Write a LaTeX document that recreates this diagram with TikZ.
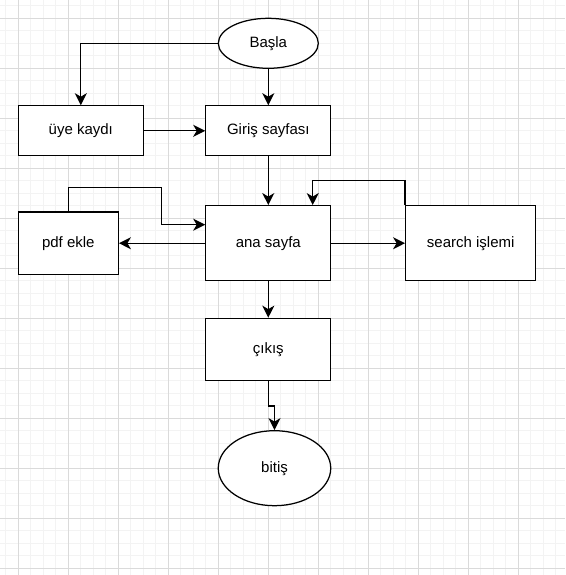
\documentclass[tikz,border=0pt]{standalone}
\usepackage{fontspec}
\setmainfont{Liberation Sans}
\usepackage{tikz}
\usetikzlibrary{arrows.meta, shapes.geometric}
\definecolor{gridminor}{HTML}{F3F3F3}
\definecolor{gridmajor}{HTML}{DADADA}

\begin{document}
\begin{tikzpicture}[x=1pt, y=-1pt, line width=1.25pt,
        every node/.append style={font=\fontsize{15}{18}\selectfont, inner sep=0pt}]
      \tikzstyle{box} = [rectangle, draw, fill=white]
      \tikzstyle{terminal} = [ellipse, draw, fill=white]
      \tikzstyle{arr} = [-{Stealth[length=12pt, width=12pt, inset=3.5pt]}]
      \useasboundingbox (0,0) rectangle (565,575);
      \foreach \i in {0,...,45}
        \draw[gridminor, line width=1pt] (5.8+12.5*\i,0) -- ++(0,575);
      \foreach \j in {0,...,45}
        \draw[gridminor, line width=1pt] (0,5.8+12.5*\j) -- ++(565,0);
      \foreach \i in {0,...,11}
        \draw[gridmajor, line width=1pt] (18.3+50*\i,0) -- ++(0,575);
      \foreach \j in {0,...,11}
        \draw[gridmajor, line width=1pt] (0,18.3+50*\j) -- ++(565,0);
      \node (basla) [terminal, minimum width=100pt, minimum height=50pt] at (268.3,43.3) {Başla};
      \node (uye) [box, minimum width=125pt, minimum height=50pt] at (80.8,130.8) {üye kaydı};
      \node (giris) [box, minimum width=125pt, minimum height=50pt] at (268.3,130.8) {Giriş sayfası};
      \node (ana) [box, minimum width=125pt, minimum height=75pt] at (268.3,243.2) {ana sayfa};
      \node (pdf) [box, minimum width=100pt, minimum height=62.5pt] at (68.3,243.2) {pdf ekle};
      \node (search) [box, minimum width=130pt, minimum height=75pt] at (470.7,243.2) {search işlemi};
      \node (cikis) [box, minimum width=125pt, minimum height=62.5pt] at (268.3,349.5) {çıkış};
      \node (bitis) [terminal, minimum width=112.5pt, minimum height=75pt] at (274.5,468.2) {bitiş};
      \coordinate (pdfup) at (161.3,187.3);
      \coordinate (searchup) at (312.7,180.7);
      \coordinate (cikisdown) at (268.3,406);
      \draw[arr] (basla.west) -| (uye.north);
      \draw[arr] (basla) -- (giris);
      \draw[arr] (uye) -- (giris);
      \draw[arr] (giris) -- (ana);
      \draw[arr] (ana) -- (pdf);
      \draw[arr] (ana) -- (search);
      \draw[arr] (ana) -- (cikis);
      \draw[arr] (pdf.north) |- (pdfup) |- ([yshift=18.5pt]ana.west);
      \draw[arr] (search.north west) |- (searchup) -- (searchup |- ana.north);
      \draw[arr] (cikis.south) -- (cikisdown) -| (bitis.north);
    \end{tikzpicture}
\end{document}
